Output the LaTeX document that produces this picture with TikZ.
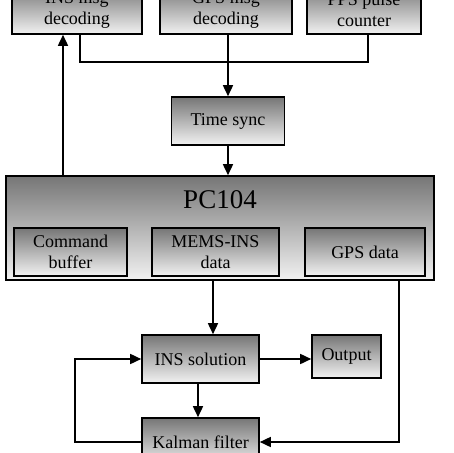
\documentclass[tikz,border=0pt]{standalone}
\usepackage{fontspec}
\setmainfont{Liberation Serif}
\usepackage{tikz}
\usetikzlibrary{positioning,shapes,arrows.meta,calc}
\definecolor{boxtop}{HTML}{767676}
\definecolor{boxbot}{HTML}{F2F2F2}
\tikzset{
  block/.style={draw, line width=1.6pt, top color=boxtop, bottom color=boxbot, align=center, inner sep=0pt, font=\fontsize{18}{21}\selectfont},
  flow/.style={line width=1.6pt, -{Triangle[length=11pt,width=10pt]}},
  wire/.style={line width=1.6pt}
}

\begin{document}
\begin{tikzpicture}[x=1pt,y=-1pt]
  \clip (0,0) rectangle (453,453);
  \fill[white] (0,0) rectangle (453,453);
  \node[block, minimum width=130pt, minimum height=48pt] (insdec) at (77,10) {INS msg\\decoding};
  \node[block, minimum width=132pt, minimum height=48pt] (gpsdec) at (226,10) {GPS msg\\decoding};
  \node[block, minimum width=114pt, minimum height=48pt] (ppscnt) at (364,10) {PPS pulse\\counter};
  \node[block, minimum width=113pt, minimum height=48pt] (sync) at (228,121) {Time sync};
  \node[block, minimum width=428pt, minimum height=104pt] (pc) at (220,228) {};
  \node[font=\fontsize{27}{30}\selectfont] (pclabel) at (220,200) {PC104};
  \node[block, minimum width=113pt, minimum height=48pt] (cmdbuf) at (70.5,252) {Command\\buffer};
  \node[block, minimum width=127pt, minimum height=48pt] (memsdat) at (215.5,252) {MEMS-INS\\data};
  \node[block, minimum width=120pt, minimum height=48pt] (gpsdat) at (365,252) {GPS data};
  \node[block, minimum width=117pt, minimum height=48pt] (inssol) at (200.5,359) {INS solution};
  \node[block, minimum width=69pt, minimum height=43pt] (output) at (346.5,356.5) {Output};
  \node[block, minimum width=117pt, minimum height=48pt] (kalman) at (200.5,442) {Kalman filter};
  \coordinate (bus) at (80,62);
  \coordinate (ppstap) at (368,0);
  \coordinate (cmdtap) at (63,0);
  \coordinate (solvtap) at (213,0);
  \coordinate (gpstap) at (399,0);
  \draw[wire] (insdec.south -| bus) -- (bus) -| (ppscnt.south -| ppstap);
  \draw[flow] (gpsdec.south -| sync) -- (sync.north);
  \draw[flow] (sync.south) -- (sync.south |- pc.north);
  \draw[flow] (pc.north -| cmdtap) -- (insdec.south -| cmdtap);
  \draw[flow] (pc.south -| solvtap) -- (inssol.north -| solvtap);
  \draw[flow] (pc.south -| gpstap) |- (kalman.east);
  \draw[flow] (inssol.east) -- (inssol.east -| output.west);
  \draw[flow] ([xshift=-2.5pt]inssol.south) -- ([xshift=-2.5pt]kalman.north);
  \draw[flow] (kalman.west) -- ++(-66,0) |- (inssol.west);
\end{tikzpicture}
\end{document}
